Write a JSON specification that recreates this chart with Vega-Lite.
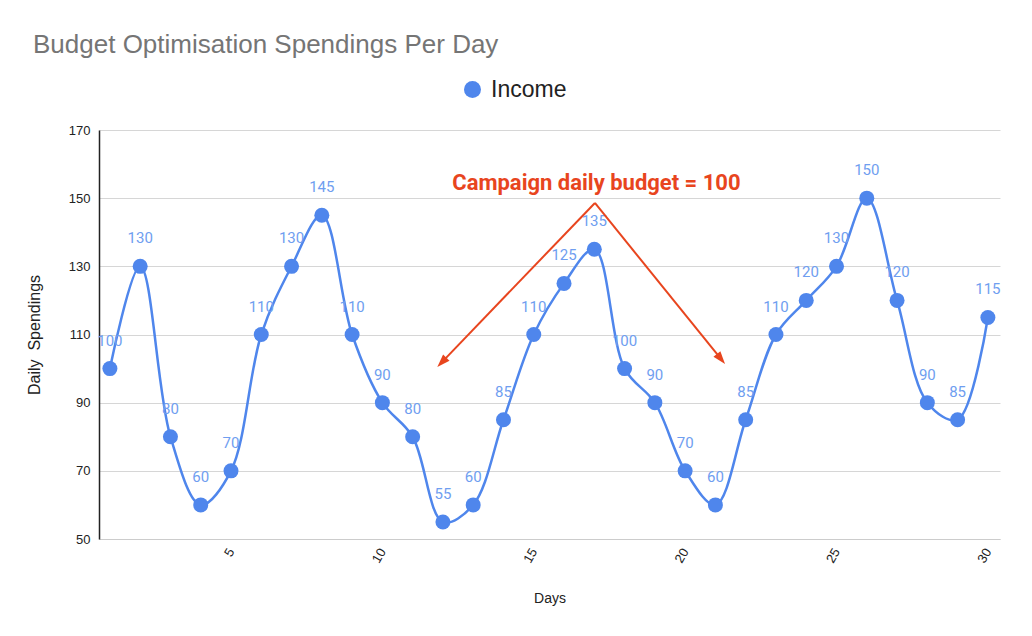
{
  "$schema": "https://vega.github.io/schema/vega-lite/v6.json",
  "autosize": "none",
  "width": 901,
  "height": 409,
  "padding": {"left": 99, "top": 130, "right": 32, "bottom": 97},
  "background": "white",
  "config": {
    "font": "Liberation Sans",
    "view": {"stroke": null}
  },
  "title": {
    "text": "Budget Optimisation Spendings Per Day",
    "anchor": "start",
    "frame": "group",
    "dx": -66,
    "offset": 20,
    "fontSize": 26,
    "fontWeight": "normal",
    "color": "#757575",
    "font": "Liberation Sans"
  },
  "datasets": {
    "spend": [
      {"day": 1, "value": 100, "series": "Income"},
      {"day": 2, "value": 130, "series": "Income"},
      {"day": 3, "value": 80, "series": "Income"},
      {"day": 4, "value": 60, "series": "Income"},
      {"day": 5, "value": 70, "series": "Income"},
      {"day": 6, "value": 110, "series": "Income"},
      {"day": 7, "value": 130, "series": "Income"},
      {"day": 8, "value": 145, "series": "Income"},
      {"day": 9, "value": 110, "series": "Income"},
      {"day": 10, "value": 90, "series": "Income"},
      {"day": 11, "value": 80, "series": "Income"},
      {"day": 12, "value": 55, "series": "Income"},
      {"day": 13, "value": 60, "series": "Income"},
      {"day": 14, "value": 85, "series": "Income"},
      {"day": 15, "value": 110, "series": "Income"},
      {"day": 16, "value": 125, "series": "Income"},
      {"day": 17, "value": 135, "series": "Income"},
      {"day": 18, "value": 100, "series": "Income"},
      {"day": 19, "value": 90, "series": "Income"},
      {"day": 20, "value": 70, "series": "Income"},
      {"day": 21, "value": 60, "series": "Income"},
      {"day": 22, "value": 85, "series": "Income"},
      {"day": 23, "value": 110, "series": "Income"},
      {"day": 24, "value": 120, "series": "Income"},
      {"day": 25, "value": 130, "series": "Income"},
      {"day": 26, "value": 150, "series": "Income"},
      {"day": 27, "value": 120, "series": "Income"},
      {"day": 28, "value": 90, "series": "Income"},
      {"day": 29, "value": 85, "series": "Income"},
      {"day": 30, "value": 115, "series": "Income"}
    ],
    "arrows": [
      {"name": "left", "x": 17.02, "y": 148.6, "x2": 12.0, "y2": 102.2},
      {"name": "right", "x": 17.02, "y": 148.6, "x2": 21.15, "y2": 103.2}
    ],
    "note": [
      {"x": 17.07, "y": 154.4, "label": "Campaign daily budget = 100"}
    ]
  },
  "layer": [
    {
      "data": {"name": "spend"},
      "mark": {"type": "line", "interpolate": "catmull-rom", "strokeWidth": 2.5},
      "encoding": {
        "x": {
          "field": "day", "type": "quantitative",
          "scale": {"domain": [0.64, 30.4], "nice": false, "zero": false},
          "axis": {
            "title": "Days", "titleFontSize": 14, "titleFontWeight": "normal", "titleColor": "#222", "titlePadding": 26,
            "values": [5, 10, 15, 20, 25, 30], "labelAngle": -60, "labelFontSize": 13, "labelColor": "#222",
            "ticks": false, "grid": false, "domainColor": "#cccccc", "domainWidth": 1, "labelPadding": 10
          }
        },
        "y": {
          "field": "value", "type": "quantitative",
          "scale": {"domain": [50, 170], "nice": false, "zero": false},
          "axis": {
            "title": "Daily\u00a0 Spendings", "titleFontSize": 16, "titleFontWeight": "normal", "titleColor": "#222", "titlePadding": 26,
            "values": [50, 70, 90, 110, 130, 150, 170], "labelFontSize": 13, "labelColor": "#222",
            "ticks": false, "grid": true, "gridColor": "#d6d6d6", "domainColor": "#222", "domainWidth": 1.5, "labelPadding": 9
          }
        },
        "color": {
          "field": "series", "type": "nominal",
          "scale": {"range": ["#4f86ec"]},
          "legend": {
            "title": null, "orient": "none", "legendX": 362, "legendY": -52, "direction": "horizontal",
            "symbolType": "circle", "symbolSize": 289, "symbolStrokeWidth": 0, "symbolFillColor": "#4f86ec",
            "labelFontSize": 23, "labelColor": "#222", "labelOffset": 7, "padding": 0
          }
        }
      }
    },
    {
      "data": {"name": "spend"},
      "mark": {"type": "point", "filled": true, "size": 225, "opacity": 1},
      "encoding": {
        "x": {"field": "day", "type": "quantitative"},
        "y": {"field": "value", "type": "quantitative"},
        "color": {"field": "series", "type": "nominal", "legend": null}
      }
    },
    {
      "data": {"name": "spend"},
      "mark": {"type": "text", "dy": -28, "fontSize": 15, "color": "#6f9ef0", "font": "Roboto"},
      "encoding": {
        "x": {"field": "day", "type": "quantitative"},
        "y": {"field": "value", "type": "quantitative"},
        "text": {"field": "value", "type": "quantitative"}
      }
    },
    {
      "mark": {"type": "rule", "color": "#e8451e", "strokeWidth": 2.5, "strokeDash": [15, 9]},
      "encoding": {"y": {"datum": 100, "type": "quantitative"}}
    },
    {
      "data": {"name": "arrows"},
      "mark": {"type": "rule", "color": "#e8451e", "strokeWidth": 2},
      "encoding": {
        "x": {"field": "x", "type": "quantitative"},
        "y": {"field": "y", "type": "quantitative"},
        "x2": {"field": "x2"},
        "y2": {"field": "y2"}
      }
    },
    {
      "data": {"name": "arrows"},
      "transform": [{"filter": "datum.name == 'left'"}],
      "mark": {"type": "point", "shape": "M0,-1L0.55,0.6L-0.55,0.6Z", "filled": true, "color": "#e8451e", "size": 260, "opacity": 1, "angle": 224},
      "encoding": {
        "x": {"field": "x2", "type": "quantitative"},
        "y": {"field": "y2", "type": "quantitative"}
      }
    },
    {
      "data": {"name": "arrows"},
      "transform": [{"filter": "datum.name == 'right'"}],
      "mark": {"type": "point", "shape": "M0,-1L0.55,0.6L-0.55,0.6Z", "filled": true, "color": "#e8451e", "size": 260, "opacity": 1, "angle": 141},
      "encoding": {
        "x": {"field": "x2", "type": "quantitative"},
        "y": {"field": "y2", "type": "quantitative"}
      }
    },
    {
      "data": {"name": "note"},
      "mark": {"type": "text", "fontSize": 22, "fontWeight": "bold", "color": "#e8451e", "font": "Roboto"},
      "encoding": {
        "x": {"field": "x", "type": "quantitative"},
        "y": {"field": "y", "type": "quantitative"},
        "text": {"field": "label"}
      }
    }
  ]
}
